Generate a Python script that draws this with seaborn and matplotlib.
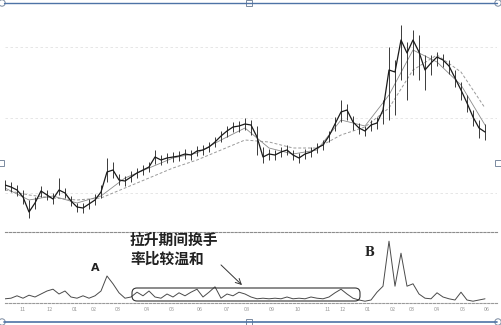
import numpy as np
import pandas as pd
import matplotlib
matplotlib.use("Agg")
import matplotlib.pyplot as plt
from matplotlib.patches import FancyBboxPatch, Circle, Rectangle
import seaborn as sns

sns.set_style("white")
plt.rcParams['font.family'] = ['Noto Sans CJK SC', 'DejaVu Sans']

# ---------------- data ----------------
close = [6.5, 6.3, 6.0, 5.3, 3.8, 4.7, 5.9, 5.5, 5.1, 6.0,
         5.7, 4.9, 4.3, 4.2, 4.6, 5.0, 5.8, 7.8, 8.0, 7.0,
         6.9, 7.3, 7.7, 8.0, 8.3, 9.3, 9.0, 9.2, 9.3, 9.4,
         9.6, 9.5, 9.9, 10.0, 10.3, 10.8, 11.4, 11.9, 12.3, 12.4,
         12.6, 12.5, 11.3, 9.3, 9.6, 9.5, 9.8, 10.0, 9.5, 9.2,
         9.6, 9.8, 10.2, 10.5, 11.4, 12.6, 13.8, 14.0, 12.8, 12.2,
         11.9, 12.5, 12.7, 14.0, 18.0, 17.8, 21.0, 19.7, 21.0, 19.8,
         18.0, 18.7, 19.3, 19.0, 18.4, 17.2, 16.0, 14.7, 13.3, 12.2,
         11.8]
high = [7.0, 6.8, 6.5, 6.0, 5.0, 5.3, 6.4, 6.0, 5.7, 7.2,
        6.2, 5.4, 4.7, 4.7, 5.1, 5.6, 6.5, 9.2, 8.8, 7.6,
        7.4, 7.9, 8.2, 8.5, 8.8, 10.0, 9.5, 9.7, 9.8, 9.9,
        10.1, 10.0, 10.4, 10.5, 10.8, 11.3, 11.9, 12.4, 12.8, 12.9,
        13.2, 13.0, 12.4, 10.3, 10.1, 10.0, 10.3, 10.5, 10.0, 9.7,
        10.1, 10.3, 10.7, 11.0, 11.9, 13.3, 15.0, 14.6, 13.4, 12.7,
        12.4, 13.0, 13.3, 15.0, 20.3, 19.0, 22.5, 20.8, 22.0, 21.5,
        19.5, 19.5, 19.8, 19.6, 19.0, 18.0, 16.8, 15.5, 14.0, 13.0,
        12.6]
low = [6.0, 5.8, 5.4, 4.6, 3.2, 4.1, 5.3, 5.0, 4.6, 5.5,
       5.2, 4.4, 3.8, 3.7, 4.1, 4.5, 5.2, 6.8, 7.2, 6.5,
       6.4, 6.8, 7.2, 7.5, 7.8, 8.6, 8.5, 8.7, 8.8, 8.9,
       9.1, 9.0, 9.4, 9.5, 9.8, 10.3, 10.8, 11.3, 11.8, 11.8,
       12.0, 11.5, 9.5, 8.7, 9.0, 9.0, 9.3, 9.5, 9.0, 8.7,
       9.1, 9.3, 9.7, 10.0, 10.8, 11.9, 12.8, 13.0, 12.0, 11.6,
       11.4, 11.9, 12.1, 12.6, 13.0, 13.5, 17.0, 15.0, 17.5, 17.0,
       16.0, 17.5, 18.4, 18.3, 17.6, 16.3, 15.0, 13.8, 12.4, 11.2,
       11.0]
ma_idx = [0, 4, 8, 12, 16, 20, 24, 28, 32, 36, 40, 44, 48, 52, 56, 60, 64, 68, 72, 76, 80]
ma_short = [6.2, 5.0, 5.4, 4.7, 5.4, 7.2, 8.2, 9.2, 9.7, 11.0, 12.2,
            10.2, 9.6, 10.0, 13.0, 12.4, 15.5, 20.0, 18.8, 16.5, 12.5]
ma_long = [6.0, 5.5, 5.2, 5.0, 5.2, 6.2, 7.2, 8.2, 9.0, 10.0, 11.0,
           10.8, 10.2, 10.2, 11.5, 12.3, 14.2, 18.0, 19.5, 17.8, 14.2]
turnover = [0.7, 0.8, 1.2, 0.8, 1.3, 1.0, 1.5, 2.0, 2.3, 1.5,
            2.0, 1.0, 0.8, 1.2, 0.8, 1.2, 2.0, 4.5, 3.2, 1.7,
            0.8, 1.0, 1.8, 1.2, 2.0, 1.0, 0.8, 1.5, 1.0, 1.7,
            1.2, 1.8, 2.3, 1.0, 1.8, 2.7, 0.8, 1.5, 1.2, 1.8,
            1.5, 1.0, 0.7, 0.8, 0.7, 0.8, 0.7, 1.0, 0.7, 0.8,
            0.7, 1.0, 0.8, 0.7, 1.0, 1.7, 2.3, 1.5, 0.8, 0.5,
            0.3, 0.5, 1.8, 2.8, 10.3, 2.8, 8.3, 2.8, 3.2, 1.5,
            0.8, 0.7, 1.7, 1.0, 0.7, 0.5, 1.8, 0.5, 0.3, 0.5,
            0.7]
tick_pos = [3.0, 7.5, 11.7, 14.8, 18.8, 23.7, 27.8, 32.5, 37.0, 40.3,
            44.5, 48.8, 53.8, 56.3, 60.5, 64.7, 67.8, 72.0, 76.3, 80.3]
tick_labels = ["11", "12", "01", "02", "03", "04", "05", "06", "07", "08",
               "09", "10", "11", "12", "01", "02", "03", "04", "05", "06"]
grid_levels = [5.7, 13.2, 20.3]
note_text = "拉升期间换手\n率比较温和"

days = np.arange(len(close))
df = pd.DataFrame({"day": days, "close": close, "high": high, "low": low,
                   "turnover": turnover})
ma = pd.DataFrame({"day": ma_idx, "short": ma_short, "long": ma_long})

# ---------------- figure ----------------
W, H = 501, 325
fig = plt.figure(figsize=(W / 100, H / 100), dpi=100)
fig.patch.set_facecolor("white")

ax = fig.add_axes([5 / W, (H - 230) / H, 492 / W, 215 / H])
axv = fig.add_axes([5 / W, (H - 303) / H, 492 / W, 71 / H])

# price panel
for y in grid_levels:
    ax.axhline(y, color="#e2e2e2", lw=0.6, ls=(0, (3, 3)), zorder=0)
ax.vlines(df["day"], df["low"], df["high"], color="#3a3a3a", lw=0.7, zorder=2)
sns.lineplot(data=df, x="day", y="close", ax=ax, color="#1a1a1a", lw=0.9, zorder=3)
sns.lineplot(data=ma, x="day", y="long", ax=ax, color="#9a9a9a", lw=0.7,
             ls=(0, (3, 2)), zorder=1)
sns.lineplot(data=ma, x="day", y="short", ax=ax, color="#8a8a8a", lw=0.6, zorder=1)
ax.set_xlim(0, 82)
ax.set_ylim(2.0, 23.5)
ax.axis("off")

# turnover panel
sns.lineplot(data=df, x="day", y="turnover", ax=axv, color="#4a4a4a", lw=0.7)
axv.set_xlim(0, 82)
axv.set_ylim(0, 71 / 6)
for s in ["left", "right"]:
    axv.spines[s].set_visible(False)
axv.spines["top"].set_color("#8c8c8c")
axv.spines["top"].set_linestyle((0, (2, 1.5)))
axv.spines["top"].set_linewidth(0.8)
axv.spines["bottom"].set_color("#9a9a9a")
axv.spines["bottom"].set_linestyle((0, (2, 1.5)))
axv.spines["bottom"].set_linewidth(0.8)
axv.set_yticks([])
axv.set_xticks(tick_pos)
axv.set_xticklabels(tick_labels, fontsize=4, color="#999999")
axv.tick_params(axis="x", length=1.5, width=0.5, color="#999999", pad=1.5)
axv.set_xlabel("")
axv.set_ylabel("")
axv.set_facecolor("none")

# overlay in pixel coordinates for decorations
ov = fig.add_axes([0, 0, 1, 1], facecolor="none")
ov.set_xlim(0, W)
ov.set_ylim(H, 0)
ov.axis("off")

frame_col = "#4e73a6"
ov.plot([4, 497], [3, 3], color=frame_col, lw=1.0)
ov.plot([4, 497], [322, 322], color=frame_col, lw=1.2)
for (cx, cy) in [(2, 3), (498, 3), (2, 322), (498, 322)]:
    ov.add_patch(Circle((cx, cy), 3.2, facecolor="white", edgecolor="#7a8aa0", lw=0.7))
for (cx, cy) in [(249, 3), (249, 322), (1, 163), (498, 163)]:
    ov.add_patch(Rectangle((cx - 3, cy - 3), 6, 6, facecolor="white",
                           edgecolor="#7a8aa0", lw=0.7))

ov.add_patch(FancyBboxPatch((132, 288), 228, 13,
                            boxstyle="round,pad=0,rounding_size=5",
                            facecolor="none", edgecolor="#333333", lw=0.8))
ov.text(130, 249, note_text, fontsize=10.6, fontweight="bold", color="#222222",
        ha="left", va="center", linespacing=1.2,
        family=["Noto Sans CJK SC", "DejaVu Sans"])
ov.annotate("", xy=(244, 287), xytext=(219, 263),
            arrowprops=dict(arrowstyle="->", color="#333333", lw=0.7))
ov.text(95, 268, "A", fontsize=8, fontweight="bold", color="#222222",
        ha="center", va="center", family=["DejaVu Sans"])
ov.text(369, 252, "B", fontsize=8.5, fontweight="bold", color="#222222",
        ha="center", va="center", family=["DejaVu Serif"])

fig.savefig("out.png", dpi=100, facecolor="white")
